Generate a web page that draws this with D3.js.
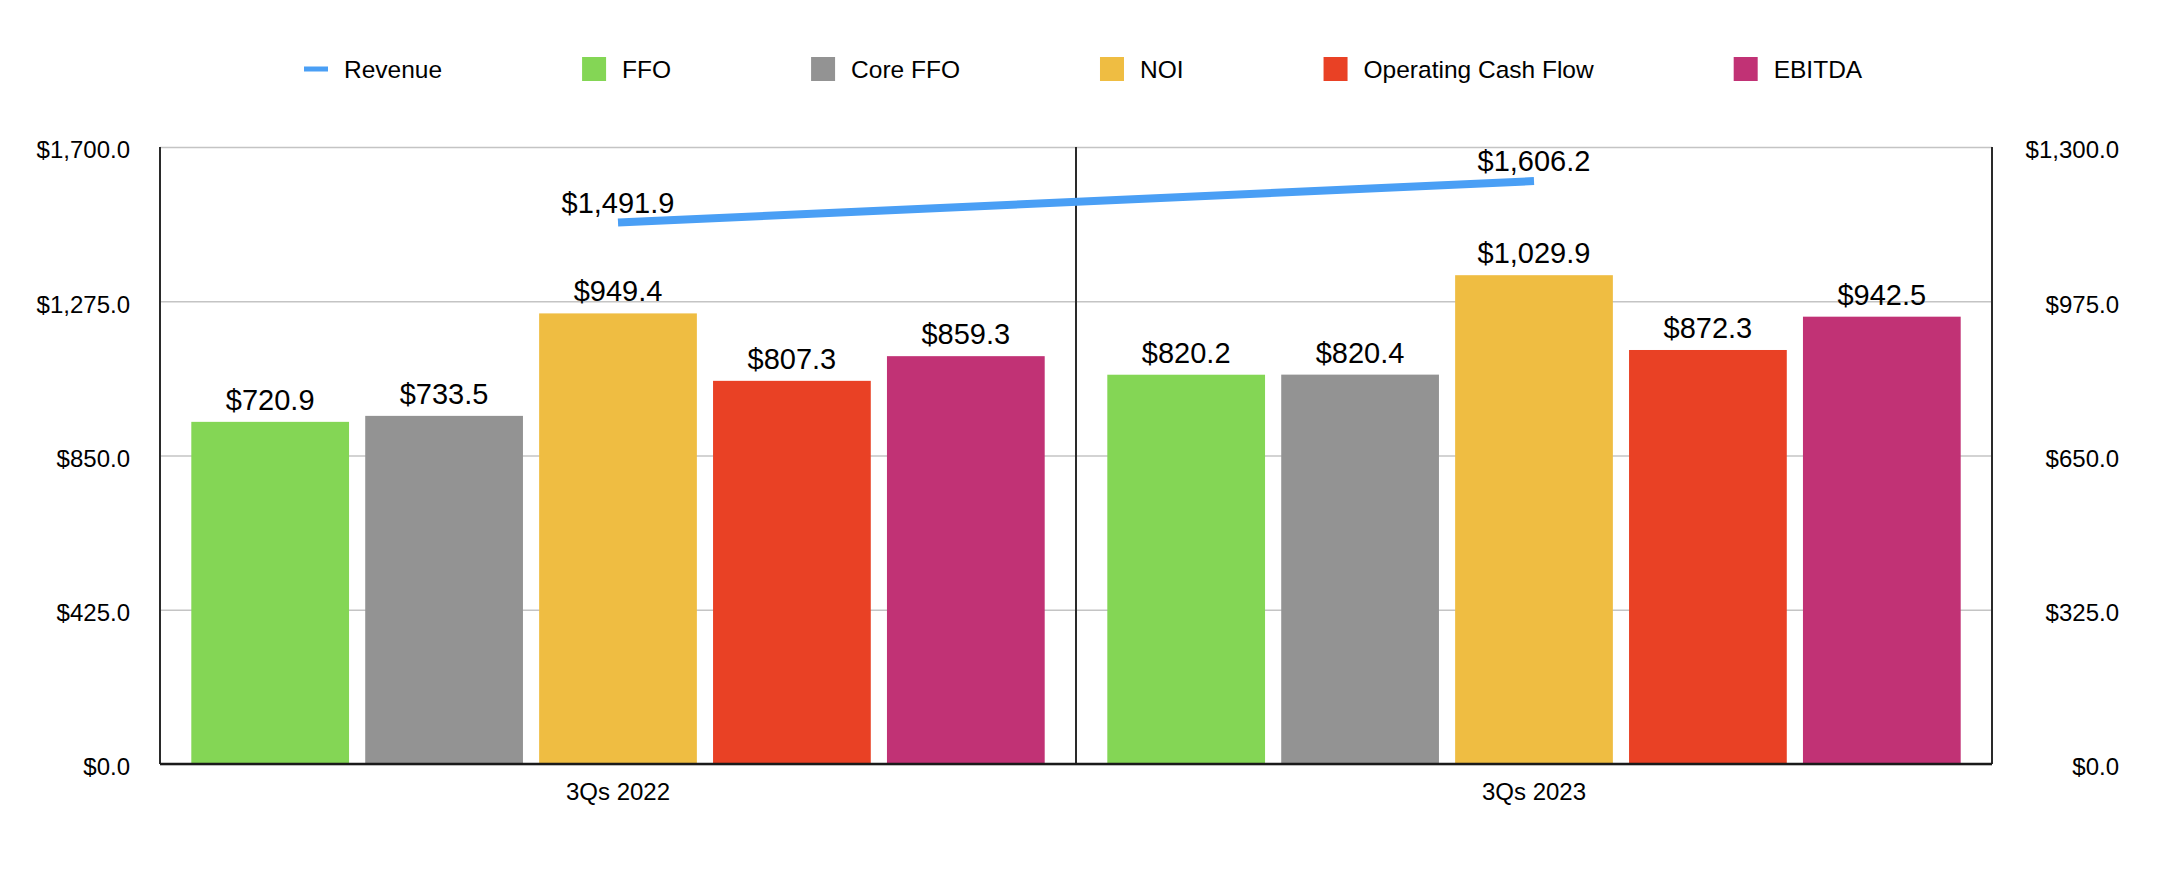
<!DOCTYPE html>
<html>
<head>
<meta charset="utf-8">
<script src="https://cdn.jsdelivr.net/npm/d3@7"></script>
<style>
  body { margin: 0; background: #fff; }
  svg { display: block; font-family: "Liberation Sans", Arial, Helvetica, sans-serif; }
</style>
</head>
<body>
<div id="chart"></div>
<script>
// Chart data
const categories = ['3Qs 2022', '3Qs 2023'];
const revenue = [1491.9, 1606.2];
const ffo = [720.9, 820.2];
const coreFfo = [733.5, 820.4];
const noi = [949.4, 1029.9];
const operatingCashFlow = [807.3, 872.3];
const ebitda = [859.3, 942.5];
const leftTicks = [0, 425, 850, 1275, 1700];
const rightTicks = [0, 325, 650, 975, 1300];

const barSeries = [
    { name: 'FFO', values: ffo, color: '#84d655' },
    { name: 'Core FFO', values: coreFfo, color: '#939393' },
    { name: 'NOI', values: noi, color: '#efbd42' },
    { name: 'Operating Cash Flow', values: operatingCashFlow, color: '#e94125' },
    { name: 'EBITDA', values: ebitda, color: '#c13275' }
];
const revenueColor = '#4a9ff5';

const W = 2178, H = 874;
const margin = { top: 147, right: 186, bottom: 110, left: 160 };
const plotW = W - margin.left - margin.right;
const plotH = H - margin.top - margin.bottom;

const fmt = d3.format('$,.1f');

const svg = d3.select('#chart').append('svg')
    .attr('width', W)
    .attr('height', H);

svg.append('rect').attr('width', W).attr('height', H).attr('fill', '#fff');

const g = svg.append('g').attr('transform', `translate(${margin.left},${margin.top})`);

// Scales
const x0 = d3.scaleBand().domain(categories).range([0, plotW]).padding(0);
const x1 = d3.scaleBand()
    .domain(barSeries.map(s => s.name))
    .range([0, x0.bandwidth()])
    .paddingInner(0.093)
    .paddingOuter(0.18);
const yLeft = d3.scaleLinear().domain([0, 1700]).range([plotH, 0]);
const yRight = d3.scaleLinear().domain([0, 1300]).range([plotH, 0]);

// Left axis + gridlines
const leftAxis = g.append('g')
    .attr('class', 'chart-axis y-axis')
    .call(d3.axisLeft(yLeft)
        .tickValues(leftTicks)
        .tickSizeInner(-plotW)
        .tickSizeOuter(0)
        .tickPadding(30)
        .tickFormat(fmt));
leftAxis.select('.domain').remove();
leftAxis.selectAll('line').attr('stroke', '#c4c4c4').attr('stroke-width', 1.5);
leftAxis.selectAll('text')
    .attr('fill', '#000')
    .attr('dy', '0.45em')
    .style('font-size', '24px');

// Right axis
const rightAxis = g.append('g')
    .attr('class', 'chart-axis y-axis-right')
    .attr('transform', `translate(${plotW},0)`)
    .call(d3.axisRight(yRight)
        .tickValues(rightTicks)
        .tickSize(0)
        .tickFormat(fmt));
rightAxis.select('.domain').remove();
rightAxis.selectAll('text')
    .attr('fill', '#000')
    .attr('x', 127)
    .attr('dy', '0.45em')
    .style('text-anchor', 'end')
    .style('font-size', '24px');

// Frame lines: left, right, category divider
const vLines = [0, plotW].concat(categories.slice(1).map(c => x0(c)));
g.selectAll('.v-line')
    .data(vLines)
    .enter().append('line')
    .attr('class', 'v-line')
    .attr('x1', d => d).attr('x2', d => d)
    .attr('y1', 0).attr('y2', plotH)
    .attr('stroke', '#2a2a2a')
    .attr('stroke-width', 2);

// Bars
const groups = g.selectAll('.cat')
    .data(categories)
    .enter().append('g')
    .attr('class', 'cat')
    .attr('transform', c => `translate(${x0(c)},0)`);

groups.each(function(c, i) {
    const grp = d3.select(this);
    const rows = barSeries.map(s => ({ name: s.name, color: s.color, value: s.values[i] }));

    grp.selectAll('rect')
        .data(rows)
        .enter().append('rect')
        .attr('x', d => x1(d.name))
        .attr('width', x1.bandwidth())
        .attr('y', d => yRight(d.value))
        .attr('height', d => plotH - yRight(d.value))
        .attr('fill', d => d.color);

    grp.selectAll('.bar-label')
        .data(rows)
        .enter().append('text')
        .attr('class', 'bar-label')
        .attr('x', d => x1(d.name) + x1.bandwidth() / 2)
        .attr('y', d => yRight(d.value) - 12)
        .style('text-anchor', 'middle')
        .style('font-size', '29px')
        .attr('fill', '#000')
        .text(d => fmt(d.value));
});

// Baseline
g.append('line')
    .attr('x1', 0).attr('x2', plotW)
    .attr('y1', plotH).attr('y2', plotH)
    .attr('stroke', '#1a1a1a')
    .attr('stroke-width', 2.5);

// Category labels
g.selectAll('.cat-label')
    .data(categories)
    .enter().append('text')
    .attr('class', 'cat-label')
    .attr('x', c => x0(c) + x0.bandwidth() / 2)
    .attr('y', plotH + 36)
    .style('text-anchor', 'middle')
    .style('font-size', '24px')
    .attr('fill', '#000')
    .text(c => c);

// Revenue line (left axis)
const revPts = categories.map((c, i) => ({ c, v: revenue[i] }));
g.append('path')
    .datum(revPts)
    .attr('fill', 'none')
    .attr('stroke', revenueColor)
    .attr('stroke-width', 8)
    .attr('stroke-linecap', 'butt')
    .attr('d', d3.line()
        .x(d => x0(d.c) + x0.bandwidth() / 2)
        .y(d => yLeft(d.v)));

g.selectAll('.rev-label')
    .data(revPts)
    .enter().append('text')
    .attr('class', 'rev-label')
    .attr('x', d => x0(d.c) + x0.bandwidth() / 2)
    .attr('y', d => yLeft(d.v) - 10)
    .style('text-anchor', 'middle')
    .style('font-size', '29px')
    .attr('fill', '#000')
    .text(d => fmt(d.v));

// Legend
const legendItems = [{ name: 'Revenue', color: revenueColor, line: true }]
    .concat(barSeries.map(s => ({ name: s.name, color: s.color, line: false })));
const legendY = 69;
const legend = svg.append('g').attr('class', 'legend');
let lx = 304;
legendItems.forEach(item => {
    const it = legend.append('g').attr('transform', `translate(${lx},${legendY})`);
    if (item.line) {
        it.append('rect')
            .attr('x', 0).attr('y', -2.5)
            .attr('width', 24).attr('height', 5)
            .attr('fill', item.color);
    } else {
        it.append('rect')
            .attr('x', 0).attr('y', -12)
            .attr('width', 24).attr('height', 24)
            .attr('fill', item.color);
    }
    const t = it.append('text')
        .attr('x', 40)
        .attr('y', 9)
        .style('font-size', '24.5px')
        .attr('fill', '#000')
        .text(item.name);
    lx += 40 + t.node().getComputedTextLength() + 140;
});
</script>
</body>
</html>
